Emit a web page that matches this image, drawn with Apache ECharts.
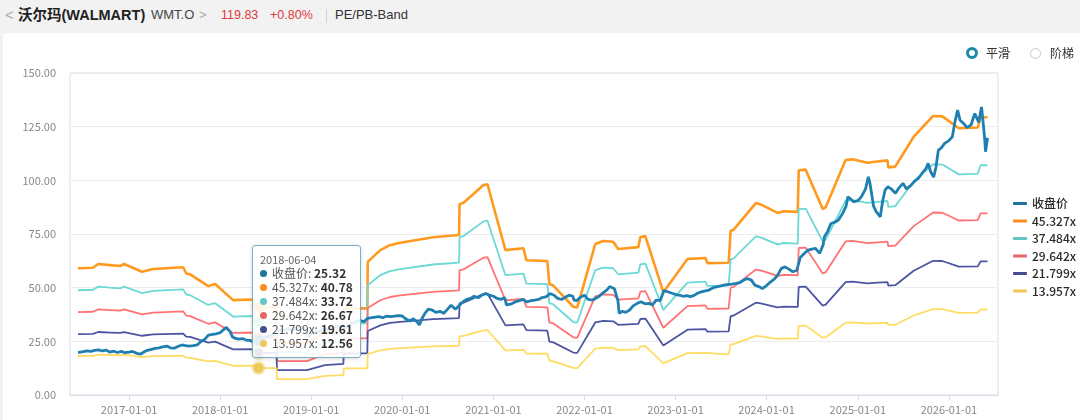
<!DOCTYPE html>
<html>
<head>
<meta charset="utf-8">
<script src="https://cdn.jsdelivr.net/npm/echarts@6/dist/echarts.min.js"></script>
<style>
  body { margin: 0; width: 1080px; height: 420px; background: #f2f2f2; position: relative; overflow: hidden;
         font-family: "Liberation Sans", "Noto Sans CJK SC", sans-serif; }
  .hd { position: absolute; top: 0; line-height: 30px; white-space: nowrap; }
  .card { position: absolute; left: 3px; top: 33px; width: 1077px; height: 387px; background: #fff; border-radius: 4px 0 0 0; }
  #chart { position: absolute; left: 0; top: 0; width: 1077px; height: 387px; }
  .radio { position: absolute; border-radius: 50%; box-sizing: border-box; background: #fff; }
  .rtxt { position: absolute; font: 12px "Noto Sans CJK SC", sans-serif; color: #333; line-height: 14px; }
</style>
</head>
<body>
<span class="hd" style="left:5px;color:#aaa;font-size:15px;">&lt;</span>
<span class="hd" style="left:18px;font:bold 14.5px 'Liberation Sans','Noto Sans CJK SC';line-height:30px;color:#222;">沃尔玛(WALMART)</span>
<span class="hd" style="left:151px;font-size:13px;color:#444;">WMT.O</span>
<span class="hd" style="left:199px;font-size:13px;color:#aaa;">&gt;</span>
<span class="hd" style="left:221px;font-size:12.5px;color:#e0393e;">119.83</span>
<span class="hd" style="left:270px;font-size:12.5px;color:#e0393e;">+0.80%</span>
<span style="position:absolute;left:326px;top:9px;width:1px;height:14px;background:#d0d0d0;"></span>
<span class="hd" style="left:335px;font-size:13px;color:#333;">PE/PB-Band</span>

<div class="card">
  <div id="chart"></div>
</div>
<div class="radio" style="left:966px;top:47px;width:12px;height:12px;border:3.5px solid #1b8aa6;"></div>
<span class="rtxt" style="left:986px;top:46px;">平滑</span>
<div class="radio" style="left:1030px;top:48px;width:11px;height:11px;border:1px solid #c9c9c9;"></div>
<span class="rtxt" style="left:1050px;top:46px;">阶梯</span>

<script>
// 收盘价 (roughly half-monthly)
const closeData = [
  ['2016-06-10',19.7],['2016-07-01',20.2],['2016-07-15',20.6],['2016-08-01',20.3],['2016-08-15',20.8],['2016-09-01',21.0],
  ['2016-09-15',20.5],['2016-10-01',20.9],['2016-10-15',20.0],['2016-11-01',20.4],['2016-11-15',19.8],['2016-12-01',20.3],
  ['2016-12-15',19.7],['2017-01-01',20.0],['2017-01-15',20.3],['2017-02-01',19.4],['2017-02-15',19.0],['2017-03-01',20.0],
  ['2017-03-15',20.8],['2017-04-01',21.3],['2017-04-15',21.7],['2017-05-01',22.0],['2017-05-15',22.4],['2017-06-01',22.8],
  ['2017-06-15',22.0],['2017-07-01',21.8],['2017-07-15',22.6],['2017-08-01',23.3],['2017-08-15',23.0],['2017-09-01',22.8],
  ['2017-09-15',23.0],['2017-10-01',23.3],['2017-10-15',24.8],['2017-11-01',26.0],['2017-11-15',27.9],['2017-12-01',28.2],
  ['2017-12-15',28.5],['2018-01-01',29.0],['2018-01-15',30.5],['2018-01-26',31.5],['2018-02-10',29.5],['2018-02-20',27.0],
  ['2018-03-01',26.5],['2018-03-15',26.0],['2018-04-01',26.3],['2018-04-15',25.6],['2018-05-01',25.4],['2018-05-15',24.6],
  ['2018-06-04',25.32],['2018-06-15',26.0],['2018-07-01',26.8],['2018-07-15',27.5],['2018-08-01',28.0],['2018-08-15',29.0],
  ['2018-08-20',30.0],['2018-09-01',30.2],['2018-09-15',30.0],['2018-10-01',31.0],['2018-10-15',30.0],['2018-11-01',31.0],
  ['2018-11-15',32.0],['2018-12-01',31.2],['2018-12-15',29.0],['2018-12-24',27.0],['2019-01-01',28.5],['2019-01-15',29.3],
  ['2019-02-01',29.5],['2019-02-15',30.5],['2019-03-01',30.3],['2019-03-15',30.8],['2019-04-01',31.5],['2019-04-15',32.0],
  ['2019-05-01',31.8],['2019-05-15',31.0],['2019-06-01',32.5],['2019-06-15',33.5],['2019-07-01',34.2],['2019-07-15',34.8],
  ['2019-08-01',34.1],['2019-08-15',35.7],['2019-09-01',36.0],['2019-09-15',36.3],['2019-10-01',36.5],['2019-10-15',36.0],
  ['2019-11-01',36.8],['2019-11-15',36.5],['2019-12-01',36.7],['2019-12-15',37.0],['2020-01-01',36.8],['2020-01-15',35.5],
  ['2020-02-01',34.5],['2020-02-15',35.5],['2020-03-01',34.0],['2020-03-10',32.6],['2020-03-20',35.5],['2020-04-01',38.0],
  ['2020-04-15',40.0],['2020-05-01',39.5],['2020-05-15',38.5],['2020-06-01',39.0],['2020-06-15',38.0],['2020-07-01',40.0],
  ['2020-07-15',41.8],['2020-08-01',40.0],['2020-08-15',41.5],['2020-09-01',43.5],['2020-09-15',44.5],['2020-10-01',45.0],
  ['2020-10-15',46.0],['2020-11-01',45.3],['2020-11-15',46.5],['2020-12-01',47.3],['2020-12-15',46.5],['2021-01-01',46.0],
  ['2021-01-15',45.0],['2021-02-01',44.5],['2021-02-15',45.4],['2021-02-22',42.0],['2021-03-01',41.1],['2021-03-15',42.5],
  ['2021-04-01',43.5],['2021-04-15',44.0],['2021-05-01',44.5],['2021-05-15',43.3],['2021-06-01',44.0],['2021-06-15',44.2],
  ['2021-07-01',44.5],['2021-07-15',45.4],['2021-08-01',45.8],['2021-08-15',47.3],['2021-09-01',46.5],['2021-09-15',45.0],
  ['2021-10-01',44.5],['2021-10-15',45.5],['2021-11-01',46.5],['2021-11-15',46.0],['2021-11-20',44.2],['2021-12-01',44.0],
  ['2021-12-15',45.5],['2022-01-01',46.5],['2022-01-15',44.5],['2022-02-01',44.2],['2022-02-15',45.0],['2022-03-01',46.0],
  ['2022-03-15',47.5],['2022-04-01',49.0],['2022-04-12',50.5],['2022-05-01',49.5],['2022-05-15',44.0],['2022-05-20',38.0],
  ['2022-06-01',39.0],['2022-06-15',38.5],['2022-07-01',39.6],['2022-07-15',41.5],['2022-08-01',42.7],['2022-08-15',43.4],
  ['2022-09-01',42.5],['2022-09-15',42.7],['2022-10-01',42.0],['2022-10-15',44.2],['2022-11-01',44.0],['2022-11-15',48.6],
  ['2022-12-01',48.1],['2022-12-15',47.5],['2023-01-01',46.8],['2023-01-15',46.5],['2023-02-01',46.0],['2023-02-15',46.3],
  ['2023-03-01',45.8],['2023-03-15',46.3],['2023-04-01',47.5],['2023-04-15',48.0],['2023-05-01',48.5],['2023-05-15',48.9],
  ['2023-06-01',50.0],['2023-06-15',50.4],['2023-07-01',50.8],['2023-07-15',51.2],['2023-08-01',51.5],['2023-08-15',51.7],
  ['2023-09-01',52.0],['2023-09-15',52.3],['2023-10-01',53.5],['2023-10-15',54.3],['2023-11-01',53.5],['2023-11-15',51.2],
  ['2023-12-01',50.5],['2023-12-15',49.6],['2024-01-01',51.0],['2024-01-15',52.5],['2024-02-01',54.0],['2024-02-15',55.9],
  ['2024-02-22',57.5],['2024-03-01',59.0],['2024-03-15',59.7],['2024-04-01',58.5],['2024-04-15',57.4],['2024-05-01',58.0],
  ['2024-05-15',64.0],['2024-06-01',66.0],['2024-06-15',67.5],['2024-07-01',68.0],['2024-07-15',68.3],['2024-08-01',66.0],
  ['2024-08-15',70.0],['2024-08-20',73.7],['2024-09-01',76.0],['2024-09-15',79.9],['2024-10-01',80.5],['2024-10-15',81.5],
  ['2024-11-01',84.6],['2024-11-15',88.0],['2024-11-22',92.3],['2024-12-01',91.5],['2024-12-15',90.0],['2025-01-01',90.5],
  ['2025-01-15',92.3],['2025-02-01',96.0],['2025-02-12',101.6],['2025-02-18',99.0],['2025-02-25',94.0],['2025-03-05',88.0],
  ['2025-03-15',85.5],['2025-04-01',83.0],['2025-04-10',90.0],['2025-04-20',95.4],['2025-05-01',97.0],['2025-05-15',96.0],
  ['2025-06-01',94.0],['2025-06-15',96.5],['2025-07-01',98.6],['2025-07-15',96.0],['2025-08-01',97.5],['2025-08-15',99.4],
  ['2025-09-01',101.0],['2025-09-15',103.2],['2025-10-01',105.5],['2025-10-10',107.9],['2025-10-20',104.0],['2025-11-01',101.5],
  ['2025-11-10',106.0],['2025-11-20',114.1],['2025-12-01',115.0],['2025-12-15',117.2],['2026-01-01',118.5],['2026-01-15',120.3],
  ['2026-01-25',127.0],['2026-02-05',132.7],['2026-02-15',128.0],['2026-03-01',126.5],['2026-03-15',124.5],['2026-04-01',126.0],
  ['2026-04-10',129.5],['2026-04-15',131.1],['2026-05-01',127.0],['2026-05-05',130.0],['2026-05-12',134.2],['2026-05-20',125.0],
  ['2026-05-25',118.7],['2026-05-28',113.3],['2026-06-05',119.83]
];

// EPS (TTM) behind the bands
const epsData = [
  ['2016-06-10',1.302],['2016-08-09',1.308],['2016-08-30',1.346],['2016-10-17',1.335],['2016-11-26',1.326],['2016-12-12',1.346],
  ['2017-02-22',1.266],['2017-04-07',1.295],['2017-08-06',1.313],['2017-08-18',1.249],['2017-09-03',1.240],['2017-11-14',1.119],
  ['2017-12-12',1.141],['2018-02-22',0.975],['2018-05-16',0.982],['2018-05-18',0.8997],['2018-06-04',0.8997],['2018-08-15',0.8997],
  ['2018-08-17',0.533],['2018-12-15',0.533],['2019-02-25',0.640],['2019-05-10',0.665],['2019-05-12',0.890],['2019-08-14',0.890],
  ['2019-08-16',1.368],['2019-10-05',1.489],['2019-11-13',1.540],['2019-12-24',1.564],['2020-05-04',1.622],['2020-08-16',1.644],
  ['2020-08-18',1.961],['2020-09-03',1.975],['2020-11-22',2.158],['2020-12-08',2.166],['2021-02-18',1.489],['2021-05-01',1.509],
  ['2021-05-13',1.385],['2021-08-05',1.377],['2021-08-13',1.141],['2021-08-29',1.125],['2021-11-17',0.907],['2021-12-03',0.900],
  ['2022-02-13',1.551],['2022-03-17',1.582],['2022-04-26',1.575],['2022-05-16',1.500],['2022-08-05',1.520],['2022-08-13',1.624],
  ['2022-09-02',1.633],['2022-11-13',1.057],['2023-02-18',1.397],['2023-05-01',1.408],['2023-05-09',1.355],['2023-08-02',1.359],
  ['2023-08-10',1.686],['2023-08-22',1.699],['2023-11-19',1.972],['2023-12-08',1.959],['2024-02-14',1.871],['2024-03-10',1.889],
  ['2024-05-05',1.882],['2024-05-09',2.310],['2024-06-06',2.316],['2024-08-13',1.911],['2024-08-25',1.930],['2024-11-13',2.414],
  ['2024-12-10',2.422],['2025-02-09',2.387],['2025-03-20',2.400],['2025-04-30',2.411],['2025-05-03',2.339],['2025-05-31',2.347],
  ['2025-08-13',2.654],['2025-10-30',2.868],['2025-12-06',2.864],['2026-02-10',2.742],['2026-04-27',2.749],['2026-05-08',2.855],
  ['2026-06-05',2.855]
];

const multiples = [45.327, 37.484, 29.642, 21.799, 13.957];
const tickDates = ['2017-01-01','2018-01-01','2019-01-01','2020-01-01','2021-01-01',
                   '2022-01-01','2023-01-01','2024-01-01','2025-01-01','2026-01-01'];
const yTicks = [0, 25, 50, 75, 100, 125, 150];
const xRange = ['2016-05-09', '2026-07-17'];
const tipDate = '2018-06-04';

const closeColor = '#1c74a0';
const bandColors = ['#fb8c1d', '#62c6c1', '#e8686a', '#454e93', '#eec85a'];

// dates -> timestamps (UTC) for a plain value axis
const ts = d => Date.parse(d + 'T00:00:00Z');
const pad = n => (n < 10 ? '0' : '') + n;
const fmtDate = t => { const d = new Date(t); return d.getUTCFullYear() + '-' + pad(d.getUTCMonth() + 1) + '-' + pad(d.getUTCDate()); };
const tickTs = tickDates.map(ts);

const chart = echarts.init(document.getElementById('chart'));

const series = [{
  name: '收盘价', type: 'line', z: 4,
  data: closeData.map(d => [ts(d[0]), d[1]]),
  showSymbol: false, symbol: 'circle', symbolSize: 8,
  lineStyle: { width: 2.8, color: closeColor }, itemStyle: { color: closeColor },
  emphasis: { scale: 1.3, itemStyle: { borderWidth: 4, borderColor: 'rgba(28,116,160,0.3)' } }
}];
multiples.forEach((m, i) => {
  series.push({
    name: m.toFixed(3) + 'x', type: 'line', z: 3,
    data: epsData.map(d => [ts(d[0]), d[1] * m]),
    showSymbol: false, symbol: 'circle', symbolSize: 8,
    lineStyle: { width: i === 0 ? 2.6 : 1.8, color: bandColors[i] }, itemStyle: { color: bandColors[i] },
    emphasis: { scale: 1.3, itemStyle: { borderWidth: 4, borderColor: 'rgba(238,200,90,0.35)' } }
  });
});

chart.setOption({
  animation: false,
  textStyle: { fontFamily: '"Noto Sans CJK SC", sans-serif' },
  grid: { left: 67, right: 82, top: 40, bottom: 25, show: true, borderColor: '#d7dee9', borderWidth: 1 },
  legend: {
    orient: 'vertical', left: 1005, top: 159, icon: 'roundRect', itemWidth: 14, itemHeight: 3, itemGap: 4.5,
    textStyle: { fontSize: 12, color: '#2a2a2a', fontWeight: 500, lineHeight: 13 }
  },
  tooltip: {
    trigger: 'axis', triggerOn: 'none', alwaysShowContent: true, transitionDuration: 0,
    axisPointer: { type: 'none' },
    position: [249, 212],
    backgroundColor: 'rgba(255,255,255,0.88)', borderColor: '#7aaec4', borderWidth: 1, padding: [6, 7, 7, 7],
    extraCssText: 'border-radius:3px;box-shadow:0 1px 4px rgba(0,0,0,0.15);',
    formatter: function (params) {
      let s = '<div style="color:#666;font-size:11px;line-height:14px;">' + fmtDate(params[0].value[0]) + '</div>';
      params.forEach(p => {
        s += '<div style="font-size:12px;line-height:14px;white-space:nowrap;">' +
          '<span style="display:inline-block;width:7px;height:7px;border-radius:50%;margin-right:5px;vertical-align:1px;background:' + p.color + ';"></span>' +
          '<span style="color:#555;">' + p.seriesName + ': </span><b style="color:#333;">' + p.value[1].toFixed(2) + '</b></div>';
      });
      return s;
    }
  },
  xAxis: {
    type: 'value', min: ts(xRange[0]), max: ts(xRange[1]),
    axisLine: { lineStyle: { color: '#d7dee9' } },
    axisTick: { show: true, customValues: tickTs, length: 5, lineStyle: { color: '#d7dee9' } },
    axisLabel: { customValues: tickTs, color: '#888', fontSize: 11, margin: 9, formatter: v => fmtDate(v) },
    splitLine: { show: false }
  },
  yAxis: {
    type: 'value', min: yTicks[0], max: yTicks[yTicks.length - 1], interval: 25,
    axisLine: { show: false }, axisTick: { show: false },
    axisLabel: { color: '#888', fontSize: 11, margin: 14, formatter: v => v.toFixed(2) },
    splitLine: { lineStyle: { color: '#ececec' } }
  },
  series: series
});

chart.dispatchAction({ type: 'showTip', seriesIndex: 0, dataIndex: closeData.findIndex(d => d[0] === tipDate) });
</script>
</body>
</html>
